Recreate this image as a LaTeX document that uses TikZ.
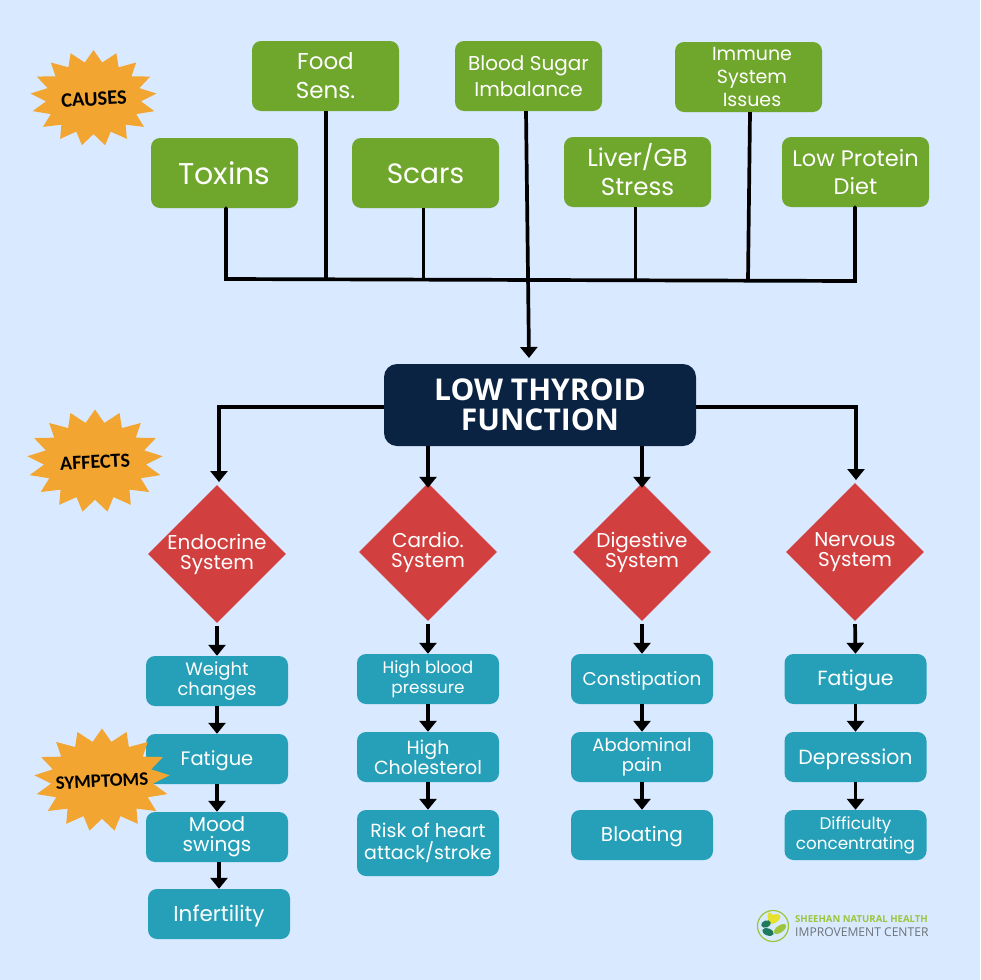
\documentclass[tikz,border=0pt]{standalone}
\usepackage{fontspec}
\setmainfont{Poppins}
\newfontfamily\burstfont{Carlito}
\newfontfamily\titlefont{Open Sans}
\usetikzlibrary{shapes.geometric,arrows.meta}
\definecolor{pagebg}{HTML}{D9E9FF}
\definecolor{causegreen}{HTML}{6FA62C}
\definecolor{navybox}{HTML}{0A2342}
\definecolor{diamondred}{HTML}{D13F3F}
\definecolor{symteal}{HTML}{26A0B8}
\definecolor{burstorange}{HTML}{F2A531}
\definecolor{logogreen}{HTML}{9CC53C}
\definecolor{logogrey}{HTML}{6D7278}
\definecolor{logodark}{HTML}{1E7A5C}
\definecolor{logoyellow}{HTML}{E6E02E}
\newcommand\strutfrac{0.95}
\tikzset{
  fs/.style 2 args={font=\fontsize{#1}{#2}\selectfont},
  sh/.code={\renewcommand\strutfrac{#1}},
  topstrut/.style={execute at begin node={\rule{0pt}{\strutfrac em}}},
  causebox/.style={rectangle,rounded corners=9pt,fill=causegreen,text=white,minimum width=147pt,minimum height=70pt,inner sep=0pt,align=center,topstrut},
  symbox/.style={rectangle,rounded corners=9pt,fill=symteal,text=white,minimum width=142pt,minimum height=50pt,inner sep=0pt,align=center,topstrut},
  sysdiamond/.style={diamond,aspect=1,fill=diamondred,text=white,minimum width=138pt,minimum height=138pt,inner sep=-10pt,align=center,topstrut},
  link/.style={draw=black,line width=3.7pt},
  linkarrow/.style={link,-{Triangle[length=11pt,width=17pt]}},
  burst/.style={star,star points=17,star point ratio=1.33,fill=burstorange,inner sep=0pt,minimum size=#1,xscale=1.32},
  bursttext/.style={font=\burstfont\bfseries\fontsize{#1}{21}\selectfont,text=black,rotate=3},
}
\begin{document}
\begin{tikzpicture}[x=1pt,y=-1pt]
\useasboundingbox[fill=pagebg] (0,0) rectangle (980,980);
% cause boxes
\node[causebox,fs={30}{34},sh=0.75] (toxins) at (224.5,173) {Toxins};
\node[causebox,fs={23}{29},sh=1.0] (food) at (325.5,76) {Food\\Sens.};
\node[causebox,fs={28}{32},sh=0.75] (scars) at (425.5,173) {Scars};
\node[causebox,fs={20}{26}] (blood) at (528.5,76) {Blood Sugar\\Imbalance};
\node[causebox,fs={24.5}{29},sh=0.8] (liver) at (637.5,172) {Liver/GB\\Stress\rule[-5pt]{0pt}{0pt}};
\node[causebox,fs={19}{23}] (immune) at (748.5,77) {\hspace*{7pt}Immune\\\hspace*{7pt}System\\\hspace*{7pt}Issues};
\node[causebox,fs={22.5}{28},sh=0.9] (protein) at (855.5,172) {Low Protein\\Diet};
% main
\node[rectangle,rounded corners=13pt,fill=navybox,text=white,minimum width=312pt,minimum height=82pt,inner sep=0pt,align=center,font=\titlefont\bfseries\fontsize{30}{30}\selectfont] (main) at (540,405) {LOW THYROID\\FUNCTION};
% bus
\coordinate (busL) at (226,279);
\coordinate (busR) at (855,281);
\draw[link,line cap=round] ([xshift=1.5pt]toxins.south) -- (busL) -- (busR) -- ([xshift=-0.5pt]protein.south);
\draw[link] ([xshift=0.5pt]food.south) -- ++(0,167);
\draw[link] ([xshift=-2pt]scars.south) -- ++(0,71);
\draw[link] ([xshift=-2pt]liver.south) -- ++(0,73);
\draw[link] ([xshift=1.5pt]immune.south) -- ++(-2,168);
\coordinate (mainTop) at (529,358);
\draw[linkarrow] ([xshift=-2.5pt]blood.south) -- (mainTop);
% diamonds
\node[sysdiamond,fs={20}{20},sh=1.15] (endo) at (217,554) {Endocrine\\System};
\node[sysdiamond,fs={20}{20}] (cardio) at (428,552) {Cardio.\\System};
\node[sysdiamond,fs={20}{20}] (digest) at (642,552) {Digestive\\System};
\node[sysdiamond,fs={20}{20}] (nerv) at (855,552) {Nervous\\System};
\coordinate (endoTop) at (219,482);
\coordinate (nervTop) at (856,480);
\draw[linkarrow] ([yshift=-2pt]main.west) -| (endoTop);
\draw[linkarrow] ([yshift=-2pt]main.east) -| (nervTop);
\draw[linkarrow] (main.south -| cardio) -- ([yshift=-5pt]cardio.north);
\draw[linkarrow] (main.south -| digest) -- ([yshift=-5pt]digest.north);
% symptoms
\node[symbox,fs={18}{20}] (weight) at (217,681) {Weight\\changes};
\node[symbox,fs={19.5}{22}] (fatiguea) at (217,759) {Fatigue};
\node[symbox,fs={20}{20}] (mood) at (217,837) {Mood\\swings};
\node[symbox,fs={21.5}{24}] (infert) at (219,914) {Infertility};
\node[symbox,fs={16.8}{20}] (bp) at (428,679) {High blood\\pressure};
\node[symbox,fs={19}{20}] (chol) at (428,757) {High\\Cholesterol};
\node[symbox,fs={19}{22},minimum height=66pt] (risk) at (428,843) {Risk of heart\\attack/stroke};
\node[symbox,fs={18.5}{22}] (consti) at (642,679) {Constipation};
\node[symbox,fs={18}{20}] (abdo) at (642,757) {Abdominal\\pain};
\node[symbox,fs={20}{24}] (bloat) at (642,835) {Bloating};
\node[symbox,fs={20.5}{24}] (fatigueb) at (855.5,679) {Fatigue};
\node[symbox,fs={20.5}{24}] (depress) at (855.5,757) {Depression};
\node[symbox,fs={16.8}{20}] (diffic) at (855.5,835) {Difficulty\\concentrating};
\tikzset{dn/.style={linkarrow,shorten <=3pt}}
\draw[dn] (endo.south) -- (weight.north);
\draw[dn] (cardio.south) -- (bp.north);
\draw[dn] (digest.south) -- (consti.north);
\draw[dn] (nerv.south) -- (fatigueb.north);
\tikzset{dn/.style={linkarrow,shorten <=0pt}}
\draw[dn] (weight.south) -- (fatiguea.north);
\draw[dn] (fatiguea.south) -- (mood.north);
\draw[dn] ([xshift=2pt]mood.south) -- (infert.north);
\draw[dn] (bp.south) -- (chol.north);
\draw[dn] (chol.south) -- (risk.north);
\draw[dn] (consti.south) -- (abdo.north);
\draw[dn] (abdo.south) -- (bloat.north);
\draw[dn] (fatigueb.south) -- (depress.north);
\draw[dn] (depress.south) -- (diffic.north);
% bursts
\node[burst=96pt] (bcauses) at (93.5,98) {};
\node[bursttext=20.5] (tcauses) at (94,99) {CAUSES};
\node[burst=103pt] (baffects) at (95,461) {};
\node[bursttext=20] (taffects) at (95,462) {AFFECTS};
\node[burst=103pt] (bsym) at (102,780) {};
\node[bursttext=19] (tsym) at (102,781) {SYMPTOMS};
% logo
\node[circle,draw=logogreen,line width=1.2pt,minimum size=31pt,inner sep=0pt] (logoring) at (773,926) {};
\fill[logoyellow,rotate around={30:(774,919)}] (774,919) ellipse (7pt and 4pt);
\fill[logoyellow,rotate around={-70:(771,918)}] (771,918) ellipse (6pt and 3pt);
\fill[logodark,rotate around={20:(766,924)}] (766,924) ellipse (5pt and 3.5pt);
\fill[logodark,rotate around={-20:(768,932)}] (768,932) ellipse (6pt and 3.5pt);
\fill[logogreen,rotate around={35:(780,929)}] (780,929) ellipse (7pt and 3.5pt);
\node[anchor=west,inner sep=0pt,font=\titlefont\bfseries\fontsize{9.6}{10}\selectfont,text=logogreen] (logoa) at (795,919.5) {SHEEHAN NATURAL HEALTH};
\node[anchor=west,inner sep=0pt,font=\titlefont\fontsize{12.1}{13}\selectfont,text=logogrey] (logob) at (795,932.5) {IMPROVEMENT CENTER};
\end{tikzpicture}
\end{document}
